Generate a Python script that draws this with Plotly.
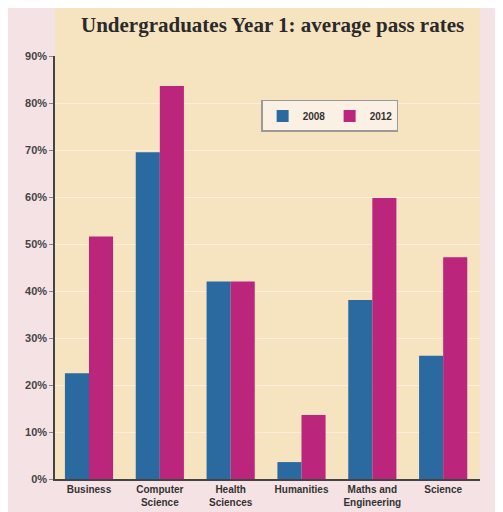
import plotly.graph_objects as go

subjects = ["Business", "Computer<br>Science", "Health<br>Sciences", "Humanities",
            "Maths and<br>Engineering", "Science"]
rates_2008 = [22.5, 69.5, 42, 3.6, 38.1, 26.2]
rates_2012 = [51.6, 83.6, 42, 13.6, 59.8, 47.2]
y_ticks = [0, 10, 20, 30, 40, 50, 60, 70, 80, 90]
y_labels = ["0%", "10%", "20%", "30%", "40%", "50%", "60%", "70%", "80%", "90%"]

fig = go.Figure()
fig.add_trace(go.Bar(x=subjects, y=rates_2008, name="<b>2008</b>",
                     marker_color="#2a6aa0", marker_line_width=0))
fig.add_trace(go.Bar(x=subjects, y=rates_2012, name="<b>2012</b>",
                     marker_color="#bb267c", marker_line_width=0))

# beige panel above the plot area, behind the title
fig.add_shape(type="rect", xref="paper", yref="paper", x0=0, x1=1, y0=1, y1=1.12,
              fillcolor="#f6e3c0", line_width=0, layer="below")

fig.update_layout(
    width=503, height=512,
    margin=dict(l=47, r=31, t=48, b=34),
    paper_bgcolor="#f5e2e4",
    plot_bgcolor="#f6e3c0",
    barmode="group",
    bargap=0.32,
    bargroupgap=0,
    title=dict(text="<b>Undergraduates Year 1: average pass rates</b>",
               font=dict(family="Liberation Serif", size=21, color="#2a2a2a"),
               x=0.526, xanchor="center", y=0.968, yanchor="middle"),
    legend=dict(orientation="h", x=0.485, y=0.896, xanchor="left", yanchor="top",
                bgcolor="#faf1e4", bordercolor="#9a9a9a", borderwidth=1.5,
                font=dict(family="Liberation Sans", size=10, color="#333333"),
                itemwidth=30, entrywidth=22, entrywidthmode="pixels",
                traceorder="normal"),
    showlegend=True,
)
fig.update_xaxes(range=[-0.48, 5.52], showline=True, linecolor="#444444", linewidth=1.5,
                 ticks="", tickfont=dict(family="Liberation Sans", size=10, color="#333333",
                                         weight="bold"),
                 showgrid=False)
fig.update_yaxes(range=[0, 90], tickvals=y_ticks, ticktext=y_labels,
                 showline=True, linecolor="#444444", linewidth=1.5,
                 ticks="outside", ticklen=4, tickcolor="#888888",
                 tickfont=dict(family="Liberation Sans", size=11, color="#444444",
                               weight="bold"),
                 showgrid=True, gridcolor="#fbeedd", gridwidth=1, zeroline=False)

fig.write_html("out.html")
